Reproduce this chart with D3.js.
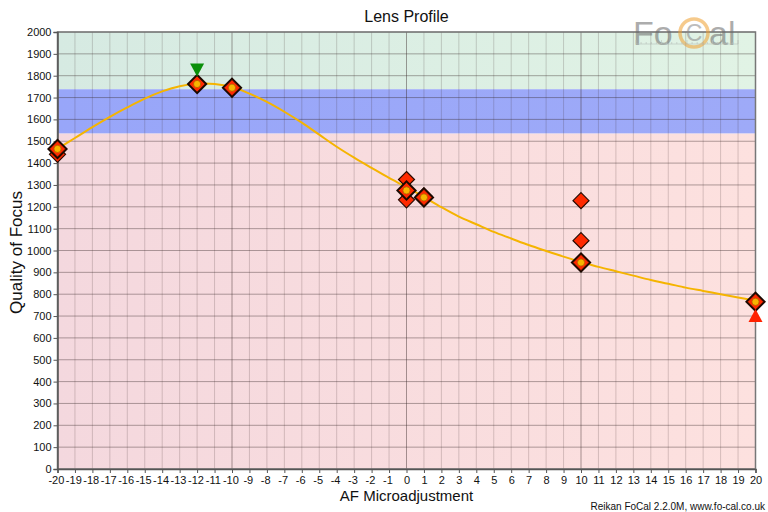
<!DOCTYPE html>
<html>
<head>
<meta charset="utf-8">
<script src="https://cdn.jsdelivr.net/npm/d3@7"></script>
<style>
  body { margin: 0; background: #fff; }
  text { font-family: "Liberation Sans", Arial, Helvetica, sans-serif; fill: #111; }
</style>
</head>
<body>
<div id="chart"></div>
<script>
// curve (lens profile fit)
const curveAF = d3.range(-20, 21);
const curveQ = [1465, 1515, 1565, 1612, 1655, 1695, 1728, 1752, 1763, 1762,
                1748, 1718, 1680, 1635, 1585, 1530, 1475, 1425, 1378, 1332,
                1290, 1245, 1198, 1155, 1120, 1085, 1055, 1025, 998, 972,
                948, 925, 905, 885, 865, 848, 830, 815, 800, 785, 770];

// measured points
const measAF = [-20, -20, -12, -10, 0, 0, 0, 1, 1, 10, 10, 10, 20];
const measQ = [1440, 1465, 1762, 1745, 1325, 1232, 1275, 1250, 1243, 1228, 1045, 945, 765];
const measFit = [false, true, true, true, false, false, true, false, true, false, false, true, true];

// zone limits
const bandLow = 1535, bandHigh = 1738;
// markers: best (green) and limit (red)
const bestAF = -12, bestQ = 1828;
const limitAF = 20, limitQ = 700;

const xTicks = d3.range(-20, 21);
const yTicks = d3.range(0, 2001, 100);

const W = 768, H = 512;
const margin = { top: 32, right: 12.5, bottom: 43, left: 57.5 };
const width = W - margin.left - margin.right;
const height = H - margin.top - margin.bottom;

const svg = d3.select("#chart").append("svg")
  .attr("width", W).attr("height", H);

const defs = svg.append("defs");
function grad(id, c1, c2) {
  const g = defs.append("linearGradient").attr("id", id)
    .attr("x1", "0%").attr("x2", "100%").attr("y1", "0%").attr("y2", "0%");
  g.append("stop").attr("offset", "0%").attr("stop-color", c1);
  g.append("stop").attr("offset", "100%").attr("stop-color", c2);
}
grad("gGreen", "#d6eae2", "#e1f3e5");
grad("gBlue", "#98a6f9", "#9eaaf8");
grad("gPink", "#f4d8de", "#fde1df");

const g = svg.append("g").attr("transform", `translate(${margin.left},${margin.top})`);

const x = d3.scaleLinear().domain([-20, 20]).range([0, width]);
const y = d3.scaleLinear().domain([0, 2000]).range([height, 0]);

// zones
g.append("rect").attr("x", 0).attr("y", y(2000)).attr("width", width)
  .attr("height", y(bandHigh) - y(2000)).attr("fill", "url(#gGreen)");
g.append("rect").attr("x", 0).attr("y", y(bandHigh)).attr("width", width)
  .attr("height", y(bandLow) - y(bandHigh)).attr("fill", "url(#gBlue)");
g.append("rect").attr("x", 0).attr("y", y(bandLow)).attr("width", width)
  .attr("height", y(0) - y(bandLow)).attr("fill", "url(#gPink)");

// grid
g.selectAll(".vgrid").data(xTicks).enter().append("line")
  .attr("x1", d => x(d)).attr("x2", d => x(d))
  .attr("y1", 0).attr("y2", height)
  .attr("stroke", "#3a2a2a")
  .attr("stroke-opacity", d => d % 10 === 0 ? 0.45 : 0.2)
  .attr("stroke-width", 1);
g.selectAll(".hgrid").data(yTicks).enter().append("line")
  .attr("x1", 0).attr("x2", width)
  .attr("y1", d => y(d)).attr("y2", d => y(d))
  .attr("stroke", "#3a2a2a").attr("stroke-opacity", 0.4)
  .attr("stroke-width", 1);

// frame
g.append("rect").attr("x", 0).attr("y", 0).attr("width", width).attr("height", height)
  .attr("fill", "none").attr("stroke", "#777").attr("stroke-width", 1.5);

// axes
const xAxis = g.append("g").attr("transform", `translate(0,${height})`)
  .call(d3.axisBottom(x).tickValues(xTicks).tickSize(4).tickPadding(3).tickFormat(d => String(d)));
const yAxis = g.append("g")
  .call(d3.axisLeft(y).tickValues(yTicks).tickSize(4).tickPadding(2).tickFormat(d => String(d)));
[xAxis, yAxis].forEach(a => {
  a.select(".domain").attr("stroke", "#555").attr("stroke-width", 1.5);
  a.selectAll(".tick line").attr("stroke", "#555");
  a.selectAll(".tick text").style("font-size", "11px").attr("fill", "#111")
    .style("font-family", "'Liberation Sans', Arial, sans-serif");
});
xAxis.selectAll(".tick text").attr("dx", d => d < 0 ? "-0.15em" : 0);

// curve
const line = d3.line().x((d, i) => x(curveAF[i])).y(d => y(d)).curve(d3.curveCatmullRom);
g.append("path").datum(curveQ).attr("d", line)
  .attr("fill", "none").attr("stroke", "#f5b400").attr("stroke-width", 2);

// measurement diamonds
const pts = measQ.map((q, i) => ({ af: measAF[i], q: q, fit: measFit[i] }));
const diamond = (r) => `M0,${-r}L${r},0L0,${r}L${-r},0Z`;
const mg = g.selectAll(".pt").data(pts).enter().append("g")
  .attr("transform", d => `translate(${x(d.af)},${y(d.q)})`);
mg.filter(d => d.fit).append("path").attr("d", diamond(10.5)).attr("fill", "#1a0800");
mg.append("path").attr("d", diamond(8))
  .attr("fill", "#ff2a00").attr("stroke", "#2a0a00").attr("stroke-width", d => d.fit ? 0.6 : 1.2);
mg.filter(d => d.fit).append("circle").attr("r", 3.6)
  .attr("fill", "#f7b500").attr("stroke", "#b85a00").attr("stroke-width", 0.8);

// best / limit markers
g.append("path")
  .attr("transform", `translate(${x(bestAF)},${y(bestQ)})`)
  .attr("d", "M-7,-6L7,-6L0,7Z").attr("fill", "#0a8f0a");
g.append("path")
  .attr("transform", `translate(${x(limitAF)},${y(limitQ)})`)
  .attr("d", "M-7,6L7,6L0,-7Z").attr("fill", "#ff2200");

// titles
svg.append("text").attr("x", margin.left + width / 2).attr("y", 22)
  .attr("text-anchor", "middle").style("font-size", "16px").text("Lens Profile");
svg.append("text").attr("transform", "rotate(-90)")
  .attr("x", -(margin.top + height / 2 + 2)).attr("y", 22)
  .attr("text-anchor", "middle").style("font-size", "17px").text("Quality of Focus");
svg.append("text").attr("x", margin.left + width / 2).attr("y", 501)
  .attr("text-anchor", "middle").style("font-size", "15px").text("AF Microadjustment");
svg.append("text").attr("x", 765).attr("y", 510)
  .attr("text-anchor", "end").style("font-size", "10px").text("Reikan FoCal 2.2.0M, www.fo-cal.co.uk");

// logo
const logo = svg.append("g").attr("opacity", 0.55);
logo.append("text").attr("x", 633).attr("y", 45).style("font-size", "34px")
  .style("fill", "#6a6a6a").text("Fo");
logo.append("circle").attr("cx", 694).attr("cy", 33).attr("r", 14)
  .attr("fill", "none").attr("stroke", "#f0a030").attr("stroke-width", 3.5);
logo.append("text").attr("x", 694).attr("y", 41).attr("text-anchor", "middle")
  .style("font-size", "23px").style("fill", "#888").text("C");
logo.append("text").attr("x", 709).attr("y", 45).style("font-size", "34px")
  .style("fill", "#6a6a6a").text("al");
logo.append("line").attr("x1", 636).attr("x2", 738).attr("y1", 44).attr("y2", 44)
  .attr("stroke", "#999").attr("stroke-width", 0.6);
logo.selectAll(".rt").data(d3.range(0, 21)).enter().append("line")
  .attr("x1", d => 636 + d * 5.1).attr("x2", d => 636 + d * 5.1)
  .attr("y1", d => d % 5 === 0 ? 40 : 42).attr("y2", 44)
  .attr("stroke", "#999").attr("stroke-width", 0.6);
</script>
</body>
</html>
